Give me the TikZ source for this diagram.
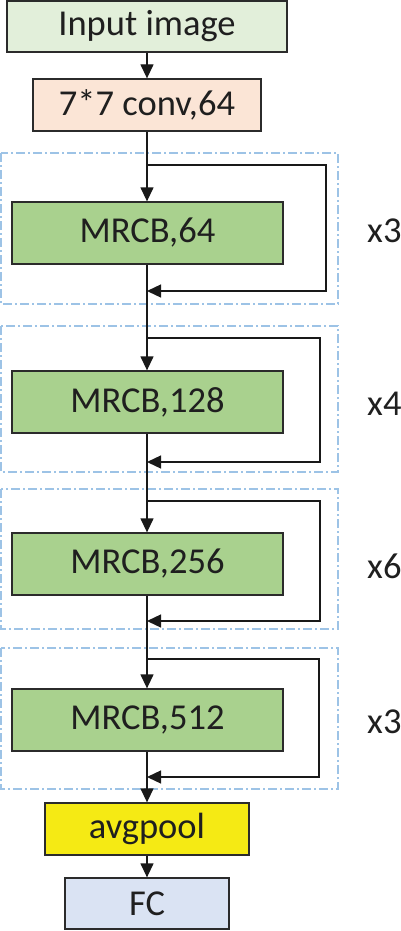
\documentclass[tikz,border=0pt]{standalone}
\usepackage{fontspec}
\setmainfont{Carlito}
\usetikzlibrary{arrows.meta}
\definecolor{inC}{HTML}{E2EFDA}
\definecolor{convC}{HTML}{FBE5D6}
\definecolor{mrcbC}{HTML}{A9D18E}
\definecolor{avgC}{HTML}{F5EA14}
\definecolor{fcC}{HTML}{DAE3F3}
\definecolor{dashC}{HTML}{9DC3E6}
\definecolor{edgeC}{HTML}{2B2B2B}
\tikzset{
  blk/.style={draw=edgeC, line width=1.3pt, rectangle, inner sep=0pt, text=black!88,
    font=\fontsize{36.5}{42}\selectfont},
  conn/.style={draw=black!90, line width=1.3pt, -{Triangle[length=14pt,width=13pt]}},
  plain/.style={draw=black!90, line width=1.3pt},
  grp/.style={draw=dashC, line width=1.1pt, dash pattern=on 9pt off 3pt on 2pt off 3pt},
  rep/.style={anchor=west, inner sep=0pt, text=black!88, font=\fontsize{36.5}{42}\selectfont}
}
\begin{document}
\begin{tikzpicture}[x=1pt,y=-1pt]
\useasboundingbox (0,0) rectangle (401,931);
% groups
\draw[grp] (1,153) rectangle (338,304);
\draw[grp] (1,326) rectangle (338,472);
\draw[grp] (1,489) rectangle (338,629);
\draw[grp] (1,648) rectangle (338,789);
% nodes
\node[blk, fill=inC, minimum width=280pt, minimum height=51pt] (in) at (147,26.5) {Input image};
\node[blk, fill=convC, minimum width=228pt, minimum height=52pt] (conv) at (147,105) {7*7 conv,64};
\node[blk, fill=mrcbC, minimum width=271pt, minimum height=62pt] (m1) at (147.5,233) {MRCB,64};
\node[blk, fill=mrcbC, minimum width=271pt, minimum height=62pt] (m2) at (147.5,402) {MRCB,128};
\node[blk, fill=mrcbC, minimum width=271pt, minimum height=62pt] (m3) at (147.5,564) {MRCB,256};
\node[blk, fill=mrcbC, minimum width=271pt, minimum height=62pt] (m4) at (147.5,720) {MRCB,512};
\node[blk, fill=avgC, minimum width=204pt, minimum height=52pt] (avg) at (147,829) {avgpool};
\node[blk, fill=fcC, minimum width=164pt, minimum height=51pt] (fc) at (147,903.5) {FC};
% repeat labels
\node[rep] (r1) at (367,231) {x3};
\node[rep] (r2) at (367,404) {x4};
\node[rep] (r3) at (367,566) {x6};
\node[rep] (r4) at (367,722) {x3};
% junction coordinates
\coordinate (s1) at (147,165); \coordinate (e1) at (147,291);
\coordinate (s2) at (147,338); \coordinate (e2) at (147,462);
\coordinate (s3) at (147,501); \coordinate (e3) at (147,621);
\coordinate (s4) at (147,659); \coordinate (e4) at (147,777);
% main flow
\draw[conn] (in.south -| s1) -- (conv.north -| s1);
\draw[conn] (conv.south -| s1) -- (m1.north -| s1);
\draw[conn] (m1.south -| s1) -- (m2.north -| s1);
\draw[conn] (m2.south -| s1) -- (m3.north -| s1);
\draw[conn] (m3.south -| s1) -- (m4.north -| s1);
\draw[conn] (m4.south -| s1) -- (avg.north -| s1);
\draw[conn] (avg.south -| s1) -- (fc.north -| s1);
% skip connections
\draw[conn] (s1) -- (326,165) -- (326,291) -- (e1);
\draw[conn] (s2) -- (320,338) -- (320,462) -- (e2);
\draw[conn] (s3) -- (320,501) -- (320,621) -- (e3);
\draw[conn] (s4) -- (319,659) -- (319,777) -- (e4);
\end{tikzpicture}
\end{document}
